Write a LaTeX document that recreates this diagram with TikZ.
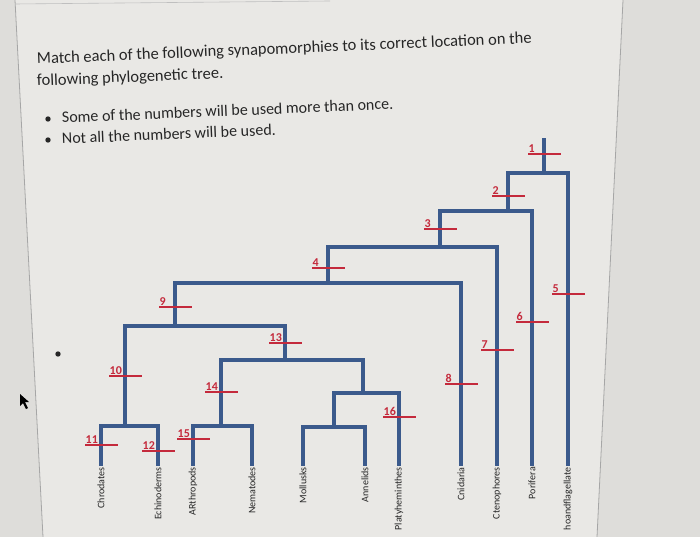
\documentclass[tikz,border=0pt]{standalone}
\usepackage{fontspec}
\setmainfont{Carlito}
\definecolor{branch}{HTML}{3B5A8C}
\definecolor{synred}{HTML}{C42A3C}
\definecolor{paper}{HTML}{E9E8E5}
\definecolor{desk}{HTML}{DEDDDA}
\definecolor{ink}{HTML}{262626}
\tikzset{
  clade/.style={draw=branch, line width=3.3pt},
  taxon/.style={rotate=90, anchor=east, inner sep=1pt, text=ink,
    font=\fontsize{10}{11}\selectfont},
  synbar/.style={draw=synred, line width=2.8pt},
  synnum/.style={anchor=south west, inner sep=0.5pt, text=synred,
    font=\fontsize{12}{13}\selectfont\bfseries},
  para/.style={anchor=base west, rotate=2.4, inner sep=0pt, text=ink,
    font=\fontsize{16.5}{18}\selectfont},
  bulletpara/.style={para, font=\fontsize{16}{18}\selectfont}
}
\begin{document}
\begin{tikzpicture}[x=1pt,y=-1pt]
\useasboundingbox (0,0) rectangle (700,537);
% screen and page
\fill[desk] (0,0) rectangle (700,537);
\fill[paper] (15,0) -- (623,0) -- (597,537) -- (43,537) -- cycle;
\draw[gray!70, line width=0.8pt] (15,0) -- (43,537);
\draw[gray!70, line width=0.8pt] (623,0) -- (597,537);
\draw[gray!50, line width=0.6pt] (15,4) -- (330,1);

% question
\node[para] (q1) at (37,64) {Match each of the following synapomorphies to its correct location on the};
\node[para] (q2) at (37,86) {following phylogenetic tree.};
\node[bulletpara] (b1) at (62,123) {Some of the numbers will be used more than once.};
\node[bulletpara] (b2) at (62,144) {Not all the numbers will be used.};
\fill[ink] (48,119) circle (2.7);
\fill[ink] (48,140) circle (2.7);
\fill[ink] (58,354) circle (2.7);
% pointer
\fill[black] (20,394) -- (20,406) -- (23,403) -- (26,409) -- (28,408) -- (25,402) -- (29,402) -- cycle;

% taxa
\node[taxon] (chord)   at (101,466) {Chrodates};
\node[taxon] (echino)  at (158,466) {Echinoderms};
\node[taxon] (arthro)  at (193,466) {ARthropods};
\node[taxon] (nema)    at (252,466) {Nematodes};
\node[taxon] (moll)    at (303,466) {Mollusks};
\node[taxon] (annel)   at (365,466) {Annelids};
\node[taxon] (platy)   at (399,466) {Platyheminthes};
\node[taxon] (cnid)    at (461,466) {Cnidaria};
\node[taxon] (cteno)   at (497,466) {Ctenophores};
\node[taxon] (pori)    at (532,466) {Porifera};
\node[taxon] (choano)  at (568,466) {hoandflagellate};

% internal nodes
\coordinate (root) at (544,138);
\coordinate (n1)   at (544,173);
\coordinate (n2)   at (508,211);
\coordinate (n3)   at (440,247);
\coordinate (n4)   at (328,283);
\coordinate (n9)   at (175,326);
\coordinate (n10)  at (125,426);
\coordinate (n13)  at (285,360);
\coordinate (n14)  at (221,426);
\coordinate (n16)  at (363,393);
\coordinate (nma)  at (334,427);

% tree
\draw[clade] (n1) -- (root);
\draw[clade] (n2) |- (n1) -| (choano.east);
\draw[clade] (n3) |- (n2) -| (pori.east);
\draw[clade] (n4) |- (n3) -| (cteno.east);
\draw[clade] (n9) |- (n4) -| (cnid.east);
\draw[clade] (n10) |- (n9) -| (n13);
\draw[clade] (chord.east) |- (n10) -| (echino.east);
\draw[clade] (n14) |- (n13) -| (n16);
\draw[clade] (arthro.east) |- (n14) -| (nema.east);
\draw[clade] (nma) |- (n16) -| (platy.east);
\draw[clade] (moll.east) |- (nma) -| (annel.east);

% synapomorphies
\foreach \x/\y/\n in {544/154/1, 508/196/2, 440/229/3, 328/268/4, 568/294/5,
  532/322/6, 497/350/7, 461/384/8, 175/307/9, 125/376/10, 101/445/11,
  158/451/12, 285/343/13, 221/392/14, 193/439/15, 399/417/16}
{
  \draw[synbar] (\x-16,\y) -- (\x+17,\y);
  \node[synnum] (s\n) at (\x-16,\y-1) {\n};
}
\end{tikzpicture}
\end{document}
